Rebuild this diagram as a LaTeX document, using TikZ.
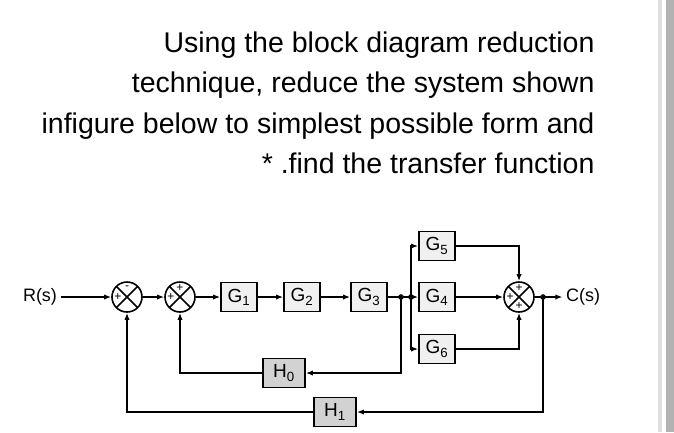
\documentclass[tikz,border=0pt]{standalone}
\usepackage{fontspec}
\setmainfont{Liberation Sans}
\usetikzlibrary{positioning,arrows.meta}
\tikzset{
  blk/.style={draw, line width=1.6pt, fill=gray!12, minimum width=36pt, minimum height=29pt, inner sep=0pt, font=\fontsize{19}{19}\selectfont},
  hblk/.style={blk, fill=gray!35, minimum width=42pt},
  sumj/.style={draw, line width=1.6pt, circle, minimum size=30pt, inner sep=0pt, path picture={
      \draw[line width=1.6pt] (path picture bounding box.north west) -- (path picture bounding box.south east)
                   (path picture bounding box.north east) -- (path picture bounding box.south west);}},
  sgn/.style={font=\fontsize{12}{12}\selectfont, inner sep=0pt},
  dot/.style={circle, fill, inner sep=2pt},
  line/.style={line width=1.6pt, -{Latex[length=7pt]}},
}
\begin{document}
\begin{tikzpicture}[x=1pt,y=-1pt]
        \useasboundingbox (0,0) rectangle (674,432);
        \fill[gray!25] (658,0) rectangle (662,432);
        \fill[gray!60] (666,0) rectangle (674,432);
        % question
        \node[anchor=east, align=right, font=\fontsize{28.5}{40.5}\selectfont] (q) at (598,103)
            {Using the block diagram reduction\\technique, reduce the system shown\\infigure below to simplest possible form and\\* .find the transfer function};
        % blocks
        \node (r) at (40,297) {\fontsize{18}{18}\selectfont R(s)};
        \node[sumj] (s1) at (127,297) {};
        \node[sumj] (s2) at (180,297) {};
        \node[blk] (g1) at (239,297) {G\textsubscript{1}};
        \node[blk] (g2) at (302,297) {G\textsubscript{2}};
        \node[blk] (g3) at (369,297) {G\textsubscript{3}};
        \node[blk] (g5) at (437,246) {G\textsubscript{5}};
        \node[blk] (g4) at (437,297) {G\textsubscript{4}};
        \node[blk] (g6) at (437,349) {G\textsubscript{6}};
        \node[sumj] (s3) at (519,297) {};
        \node (c) at (583,297) {\fontsize{18}{18}\selectfont C(s)};
        \node[hblk] (h0) at (284,373) {H\textsubscript{0}};
        \node[hblk] (h1) at (335,412) {H\textsubscript{1}};
        \node[dot] (j1) at (401,297) {};
        \node[dot] (j2) at (411,297) {};
        \node[dot] (j3) at (543,297) {};
        % signs
        \node[sgn] at ([xshift=-9pt]s1.center) {+};
        \node[sgn] at ([yshift=9pt]s1.center) {-};
        \node[sgn] at ([xshift=-9pt]s2.center) {+};
        \node[sgn] at ([yshift=9pt]s2.center) {+};
        \node[sgn] at ([xshift=-9pt]s3.center) {+};
        \node[sgn] at ([yshift=-9pt]s3.center) {+};
        \node[sgn] at ([yshift=9pt]s3.center) {+};
        % forward path
        \draw[line] (r) -- (s1);
        \draw[line] (s1) -- (s2);
        \draw[line] (s2) -- (g1);
        \draw[line] (g1) -- (g2);
        \draw[line] (g2) -- (g3);
        \draw[line width=1.6pt] (g3) -- (j2.center);
        \draw[line] (j2.center) -- (g4);
        \draw[line] (j2.center) |- (g5);
        \draw[line] (j2.center) |- (g6);
        \draw[line] (g4) -- (s3);
        \draw[line] (g5) -| (s3);
        \draw[line] (g6) -| (s3);
        \draw[line] (s3) -- (c);
        % feedback
        \draw[line] (j1.center) |- (h0);
        \draw[line] (h0) -| (s2);
        \draw[line] (j3.center) |- (h1);
        \draw[line] (h1) -| (s1);
\end{tikzpicture}
\end{document}
